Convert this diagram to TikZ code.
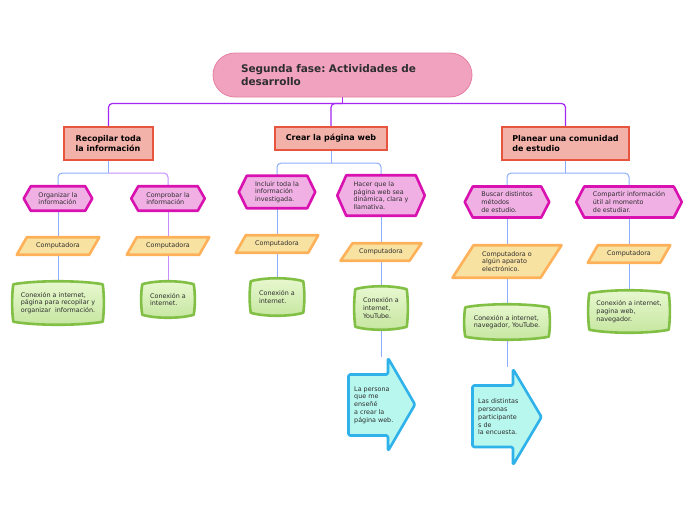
\documentclass[tikz,border=0pt]{standalone}
\usepackage{fontspec}
\setmainfont{DejaVu Sans}
\frenchspacing
\usetikzlibrary{backgrounds}
\definecolor{rootfill}{HTML}{F0A2BE}
\definecolor{rootline}{HTML}{E77FA3}
\definecolor{lafill}{HTML}{F2B2AA}
\definecolor{laline}{HTML}{E8553F}
\definecolor{hexfill}{HTML}{F0B0E4}
\definecolor{hexline}{HTML}{D811B0}
\definecolor{parfill}{HTML}{F8E2A2}
\definecolor{parline}{HTML}{FFB15A}
\definecolor{cyltop}{HTML}{E8F8D0}
\definecolor{cylbot}{HTML}{C6E6A0}
\definecolor{cylline}{HTML}{82BF45}
\definecolor{arrfill}{HTML}{B8F7EE}
\definecolor{arrline}{HTML}{2FB2EA}
\definecolor{conpurple}{HTML}{A526F5}
\definecolor{conblue}{HTML}{8DAEFF}
\definecolor{conlilac}{HTML}{C98CFF}
\definecolor{txt}{HTML}{2E2E2E}
\tikzset{
  hexshape/.style={fill=hexfill, draw=hexline, line width=2.6pt, line join=round},
  parshape/.style={fill=parfill, draw=parline, line width=2.6pt, line join=round},
  cylshape/.style={top color=cyltop, bottom color=cylbot, draw=cylline, line width=2.6pt, line join=round},
  arrshape/.style={fill=arrfill, draw=arrline, line width=2.6pt, line join=round, rounded corners=1.5pt},
  smalltext/.style={font=\fontsize{6.4}{7.7}\selectfont, text=txt, align=left, inner sep=0pt},
  rootbox/.style={draw=rootline, fill=rootfill, line width=0.8pt, rounded corners=22pt,
    minimum height=44pt, text width=203pt, inner xsep=28pt, inner ysep=0pt, align=left,
    font=\fontsize{10.5}{13}\selectfont\bfseries, text=txt},
  lonebox/.style={draw=laline, fill=lafill, line width=1.2pt, align=left, inner sep=0pt,
    font=\fontsize{8}{10}\selectfont\bfseries, text=black},
  c0/.style={draw=conpurple, line width=1.2pt, rounded corners=4pt},
  cblue/.style={draw=conblue, line width=1pt, rounded corners=4pt},
  clilac/.style={draw=conlilac, line width=1pt, rounded corners=4pt}
}
\newcommand\mkhex[7]{%
  \path[hexshape] (#2-#4/2,#3) -- (#2-#4/2+#6,#3-#5/2) -- (#2+#4/2-#6,#3-#5/2) -- (#2+#4/2,#3)
    -- (#2+#4/2-#6,#3+#5/2) -- (#2-#4/2+#6,#3+#5/2) -- cycle;
  \node[smalltext, minimum width=#4, minimum height=#5] (#1) at (#2,#3) {#7};}
\newcommand\mkpara[7]{%
  \path[parshape] (#2-#4/2+#6/2,#3-#5/2) -- (#2+#4/2+#6/2,#3-#5/2) -- (#2+#4/2-#6/2,#3+#5/2)
    -- (#2-#4/2-#6/2,#3+#5/2) -- cycle;
  \node[smalltext, minimum width=#4, minimum height=#5] (#1) at (#2,#3) {#7};}
\newcommand\mkcyl[6]{%
  \path[cylshape] (#2-#4/2,#3-#5/2+3) .. controls (#2-#4/4,#3-#5/2-1) and (#2+#4/4,#3-#5/2-1) .. (#2+#4/2,#3-#5/2+3)
    .. controls (#2+#4/2+1.5,#3-#5/6) and (#2+#4/2+1.5,#3+#5/6) .. (#2+#4/2,#3+#5/2-3)
    .. controls (#2+#4/4,#3+#5/2+1) and (#2-#4/4,#3+#5/2+1) .. (#2-#4/2,#3+#5/2-3)
    .. controls (#2-#4/2-1.5,#3+#5/6) and (#2-#4/2-1.5,#3-#5/6) .. (#2-#4/2,#3-#5/2+3) -- cycle;
  \node[smalltext, minimum width=#4, minimum height=#5] (#1) at (#2,#3) {#6};}
\newcommand\mkarrow[8]{%
  \path[arrshape] (#1,#4) -- (#2,#4) -- (#2,#6) -- (#3,#8) -- (#2,#7) -- (#2,#5) -- (#1,#5) -- cycle;}

\begin{document}
\begin{tikzpicture}[x=1pt,y=-1pt]
\useasboundingbox (0,0) rectangle (696,520);

% root and level 1
\node[rootbox] (root) at (342.5,75) {Segunda fase: Actividades de\\desarrollo};
\node[lonebox, minimum width=89pt, minimum height=33pt] (l1a) at (108.5,143.5) {Recopilar toda\\la información};
\node[lonebox, minimum width=112pt, minimum height=23pt] (l1b) at (331,138.5) {Crear la página web};
\node[lonebox, minimum width=127pt, minimum height=33pt] (l1c) at (565.5,143.5) {Planear una comunidad\\de estudio};

% level 2 hexagons
\mkhex{h1}{58}{198.5}{68.5}{24.5}{7}{Organizar la\\información}
\mkhex{h2}{168}{198.5}{73.5}{24.5}{7}{Comprobar la\\información}
\mkhex{h3}{277}{192}{76.5}{32.5}{8}{Incluir toda la\\información\\investigada.}
\mkhex{h4}{381}{195.5}{87.5}{40.5}{9}{Hacer que la\\página web sea\\dinámica, clara y\\llamativa.}
\mkhex{h5}{507}{202}{84.5}{31}{8}{Buscar distintos\\métodos\\de estudio.}
\mkhex{h6}{629}{202}{105.5}{31}{8}{Compartir información\\útil al momento\\de estudiar.}

% level 3 parallelograms
\mkpara{p1}{58}{246}{72.5}{17.5}{10}{Computadora}
\mkpara{p2}{168}{246}{72.5}{17.5}{10}{Computadora}
\mkpara{p3}{277}{244}{72.5}{17.5}{10}{Computadora}
\mkpara{p4}{381}{252}{69}{17.5}{12}{Computadora}
\mkpara{p5}{507}{261.5}{88}{32.5}{21}{Computadora o\\algún aparato\\electrónico.}
\mkpara{p6}{629}{254}{72.5}{17.5}{10}{Computadora}

% level 4 cylinders
\mkcyl{k1}{58}{303}{89.5}{43.5}{Conexión a internet,\\página para recopilar y\\organizar \ información.}
\mkcyl{k2}{168}{299.5}{51.5}{36.5}{Conexión a\\internet.}
\mkcyl{k3}{277}{297}{52.5}{37.5}{Conexión a\\internet.}
\mkcyl{k4}{381}{308}{51.5}{43.5}{Conexión a\\internet,\\YouTube.}
\mkcyl{k5}{507}{322}{83.5}{35.5}{Conexión a internet,\\navegador, YouTube.}
\mkcyl{k6}{629}{311.5}{79.5}{42.5}{Conexión a internet,\\pagina web,\\navegador.}

% level 5 arrows
\mkarrow{348.5}{388}{415}{374.5}{435.5}{358}{451}{404.5}
\node[smalltext, anchor=west] (a1) at (354,405) {La persona\\que me\\enseñé\\a crear la\\página web.};
\coordinate (t1) at (381,357);
\mkarrow{472.5}{513}{541.5}{385.5}{447}{369}{465}{417}
\node[smalltext, anchor=west] (a2) at (478,417) {Las distintas\\personas\\participante\\s de\\la encuesta.};
\coordinate (t2) at (507,367);

% junction points
\path (root.south) ++(0,6) coordinate (j0);
\path (l1a.south) ++(0,12.5) coordinate (ja);
\path (l1b.south) ++(0,12.5) coordinate (jb);
\path (l1c.south) ++(0,12.5) coordinate (jc);

% connectors
\begin{scope}[on background layer]
  \fill[white] (0,0) rectangle (696,520);
  \draw[c0] (root.south) -- (j0);
  \draw[c0] (l1a.north) |- (j0) -| (l1c.north);
  \draw[c0] (j0) -| (l1b.north);
  \draw[cblue] (l1a.south) -- (ja);
  \draw[cblue] (h1.north) |- (ja);
  \draw[clilac] (ja) -| (h2.north);
  \draw[cblue] (l1b.south) -- (jb);
  \draw[cblue] (h3.north) |- (jb) -| (h4.north);
  \draw[cblue] (l1c.south) -- (jc);
  \draw[cblue] (h5.north) |- (jc) -| (h6.north);
  \draw[cblue] (h1) -- (p1);
  \draw[cblue] (p1) -- (k1);
  \draw[clilac] (h2) -- (p2);
  \draw[clilac] (p2) -- (k2);
  \draw[cblue] (h3) -- (p3);
  \draw[cblue] (p3) -- (k3);
  \draw[cblue] (h4) -- (p4);
  \draw[cblue] (p4) -- (k4);
  \draw[cblue] (k4) -- (t1);
  \draw[cblue] (h5) -- (p5);
  \draw[cblue] (p5) -- (k5);
  \draw[cblue] (k5) -- (t2);
  \draw[cblue] (h6) -- (p6);
  \draw[cblue] (p6) -- (k6);
\end{scope}
\end{tikzpicture}
\end{document}
